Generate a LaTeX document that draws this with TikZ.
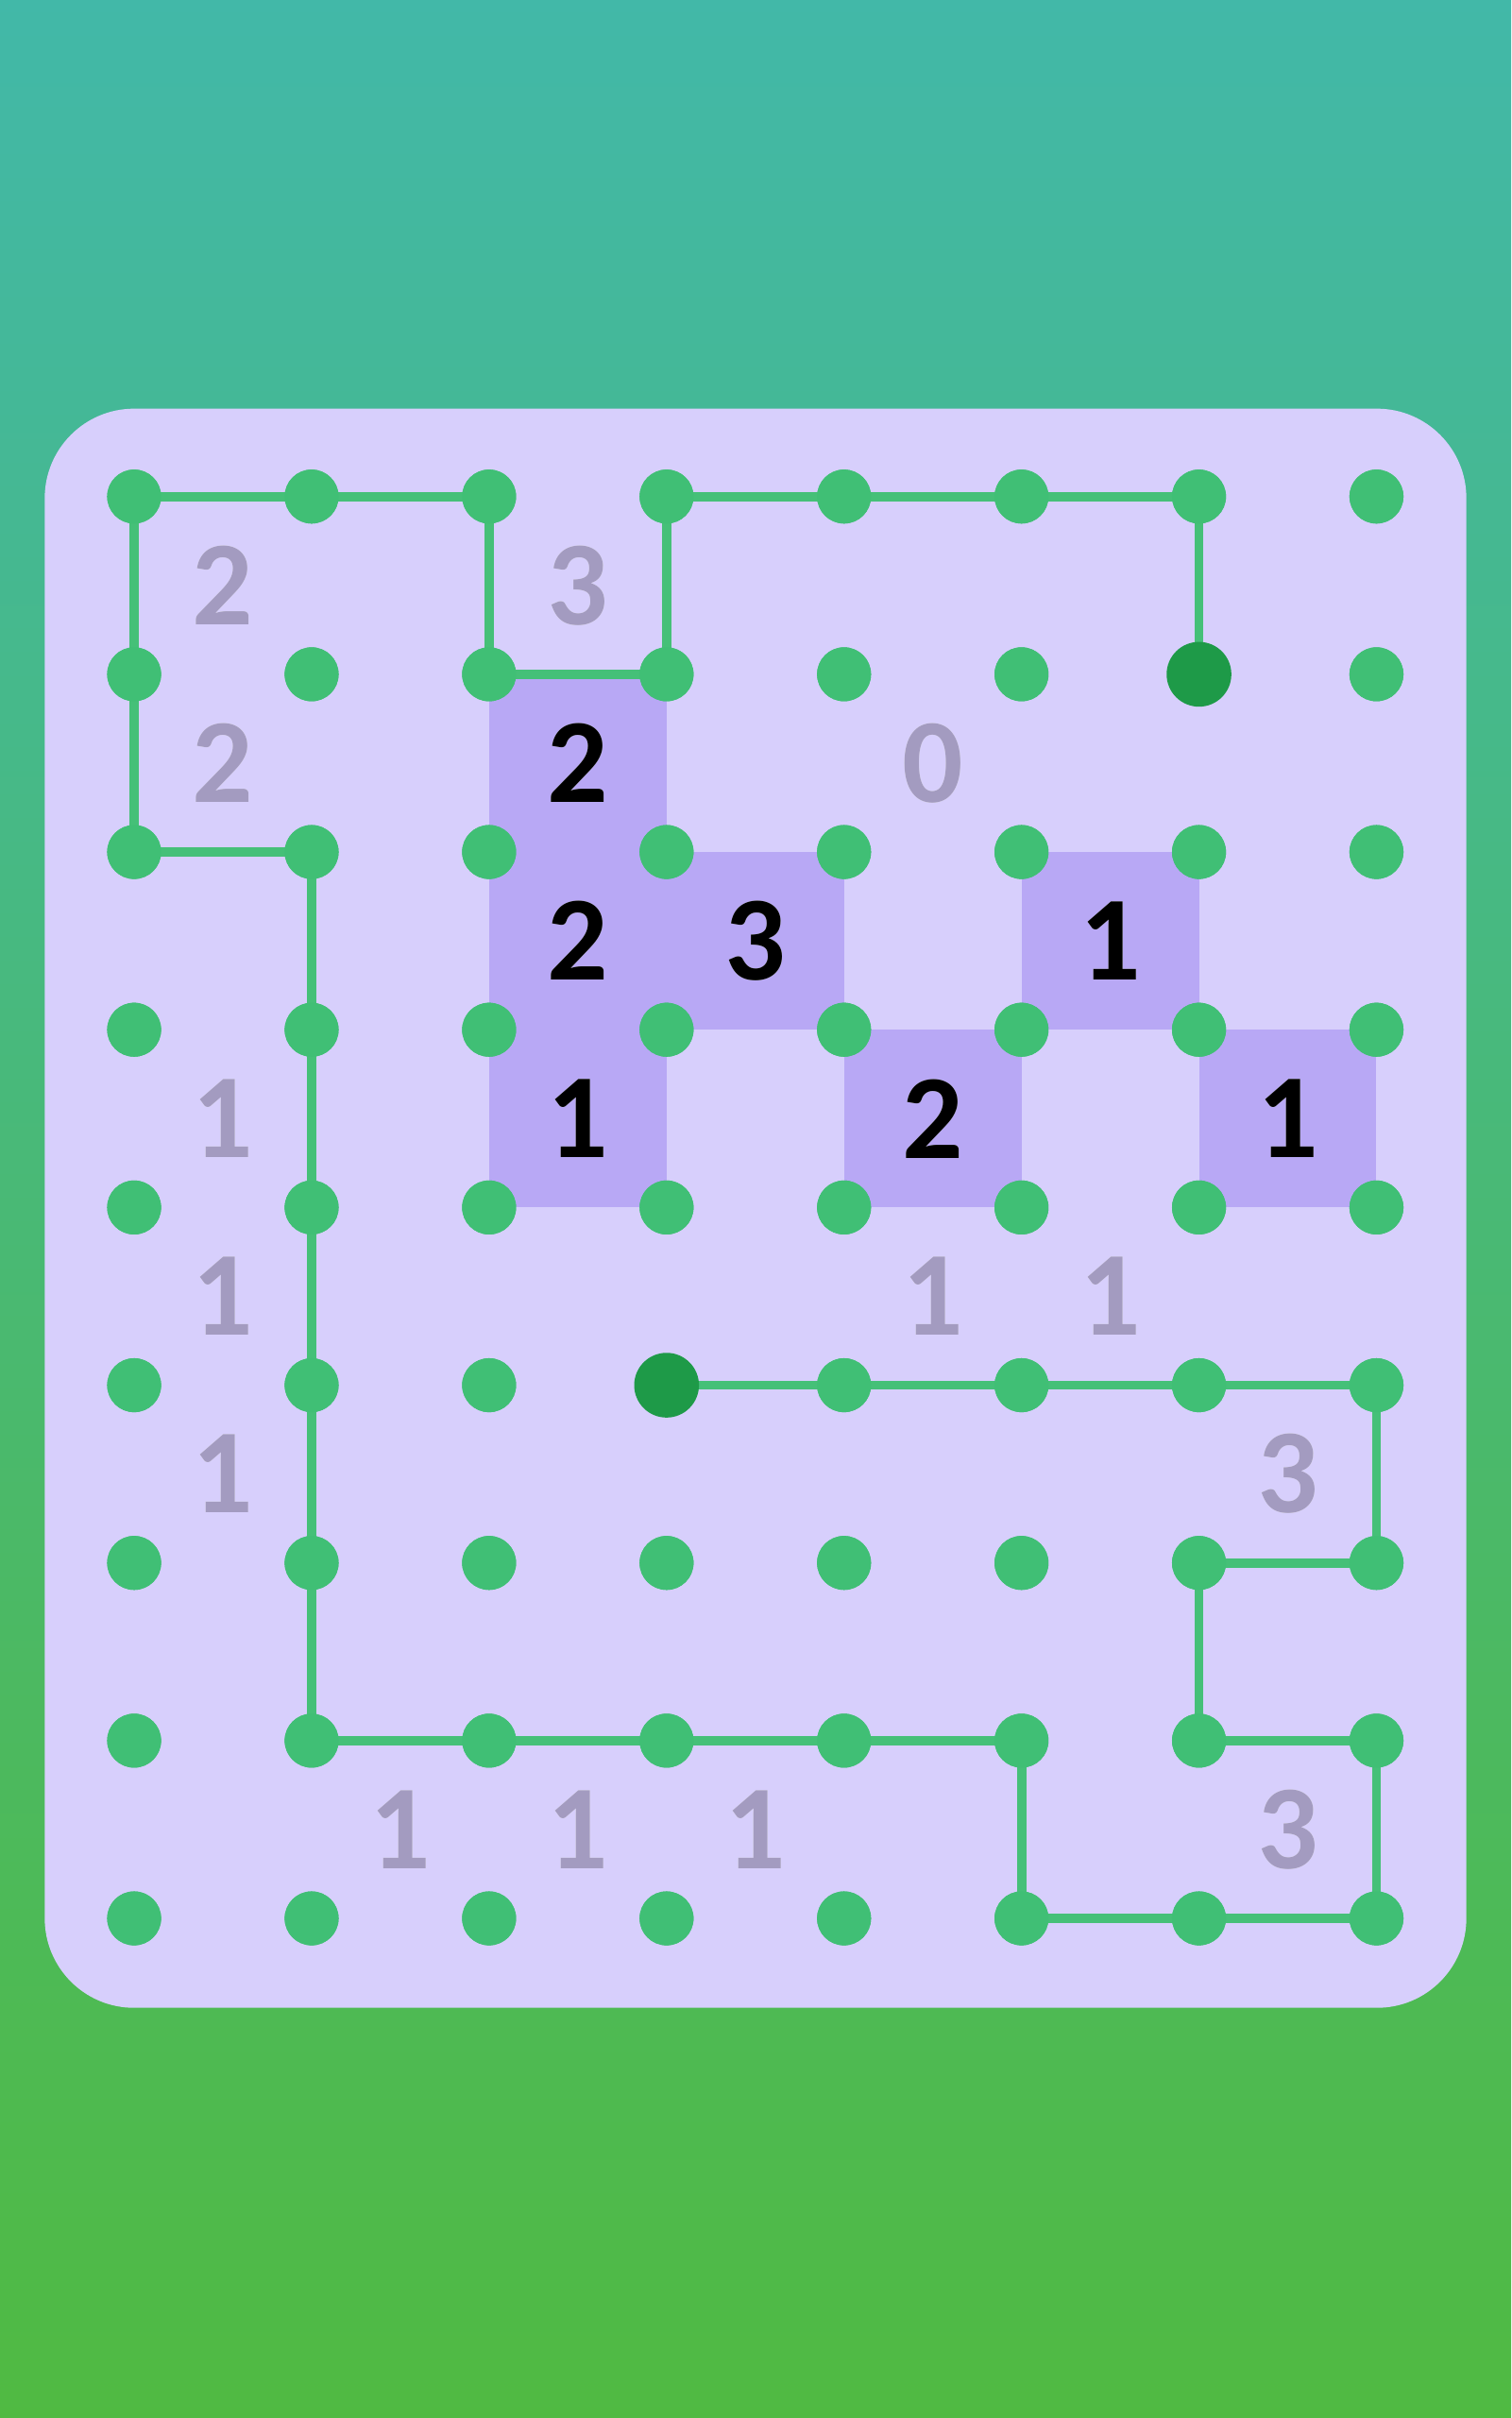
\documentclass[tikz,border=0pt]{standalone}
\usepackage{fontspec}
\setmainfont{Carlito}
\usepackage[outline]{contour}
\contourlength{1.5pt}
\definecolor{bgtop}{HTML}{42B8A8}
\definecolor{bgbot}{HTML}{50BA42}
\definecolor{panel}{HTML}{D7CFFC}
\definecolor{hl}{HTML}{B8A8F5}
\definecolor{dotc}{HTML}{40BF75}
\definecolor{linec}{HTML}{45C078}
\definecolor{endc}{HTML}{1E9A48}
\definecolor{clueg}{HTML}{A39BC0}
\begin{document}
\begin{tikzpicture}[x=1pt,y=-1pt,
  dotn/.style={circle,fill=dotc,minimum size=35pt,inner sep=0pt},
  endn/.style={circle,fill=endc,minimum size=42pt,inner sep=0pt},
  pathline/.style={draw=linec,line width=6pt,line join=round},
  cluegray/.style={font=\fontsize{78}{78}\selectfont\bfseries,text=clueg},
  clueblack/.style={font=\fontsize{78}{78}\selectfont\bfseries,text=black}]
\shade[top color=bgtop,bottom color=bgbot] (0,0) rectangle (980,1568);
\useasboundingbox (0,0) rectangle (980,1568);
\fill[panel,rounded corners=58pt] (29,265) rectangle (951,1302);
% highlighted cells
\foreach \c/\r in {2/1,2/2,3/2,5/2,2/3,4/3,6/3}
  \fill[hl] ({87+115.1*\c},{322+115.25*\r}) rectangle ({87+115.1*(\c+1)},{322+115.25*(\r+1)});
% dots
\foreach \c in {0,...,7}
  \foreach \r in {0,...,8}
    \node[dotn] (d-\c-\r) at ({87+115.1*\c},{322+115.25*\r}) {};
% path
\draw[pathline] (d-6-1.center) -- (d-6-0.center) -- (d-3-0.center) -- (d-3-1.center) -- (d-2-1.center) -- (d-2-0.center) -- (d-0-0.center) -- (d-0-2.center) -- (d-1-2.center) -- (d-1-7.center) -- (d-5-7.center) -- (d-5-8.center) -- (d-7-8.center) -- (d-7-7.center) -- (d-6-7.center) -- (d-6-6.center) -- (d-7-6.center) -- (d-7-5.center) -- (d-3-5.center);
% redraw dots on top
\foreach \c in {0,...,7}
  \foreach \r in {0,...,8}
    \fill[dotc] (d-\c-\r) circle (17.5pt);
\node[endn] (e1) at (d-6-1) {};
\node[endn] (e2) at (d-3-5) {};
% clues
\foreach \c/\r/\t in {0/0/2,2/0/3,0/1/2,4/1/0,0/3/1,0/4/1,4/4/1,5/4/1,0/5/1,6/5/3,1/7/1,2/7/1,3/7/1,6/7/3}
  \node[cluegray] (g-\c-\r) at ({87+115.1*(\c+0.5)},{322+115.25*(\r+0.5)}) {\contour{white}{\t}};
\foreach \c/\r/\t in {2/1/2,2/2/2,3/2/3,5/2/1,2/3/1,4/3/2,6/3/1}
  \node[clueblack] (b-\c-\r) at ({87+115.1*(\c+0.5)},{322+115.25*(\r+0.5)}) {\contour{white}{\t}};
\end{tikzpicture}
\end{document}
